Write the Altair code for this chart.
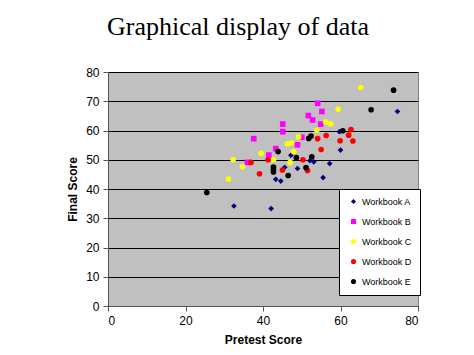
import altair as alt
import pandas as pd

series = ["Workbook A", "Workbook B", "Workbook C", "Workbook D", "Workbook E"]
colors = ["#000080", "#FF00FF", "#FFFF00", "#FF0000", "#000000"]
shapes = ["diamond", "square", "circle", "circle", "circle"]

a_x = [74.7, 59.7, 60.0, 47.2, 52.1, 53.1, 57.2, 45.6, 48.9, 55.5, 43.3, 44.6, 32.5, 42.1]
a_y = [66.5, 59.6, 53.3, 51.5, 49.7, 49.3, 48.7, 47.4, 47.0, 43.9, 43.3, 42.7, 34.2, 33.3]

b_x = [54.1, 55.2, 51.7, 52.8, 54.9, 45.1, 45.1, 50.0, 37.6, 48.9, 43.3, 41.5, 36.0]
b_y = [69.3, 66.5, 65.1, 63.6, 62.2, 62.2, 59.6, 57.7, 57.2, 55.1, 53.8, 51.6, 49.1]

c_x = [65.2, 59.4, 56.2, 57.5, 53.9, 49.2, 46.3, 47.4, 47.9, 39.5, 32.3, 42.7, 47.0, 34.7, 31.1]
c_y = [74.7, 67.3, 62.9, 62.3, 60.1, 57.8, 55.5, 55.7, 52.8, 52.2, 50.0, 50.0, 49.1, 47.6, 43.4]

d_x = [62.7, 56.3, 62.1, 54.1, 59.9, 63.2, 55.0, 50.3, 36.9, 41.3, 51.5, 45.0, 39.1]
d_y = [60.3, 58.3, 58.4, 57.2, 56.5, 56.4, 53.5, 50.0, 49.1, 50.0, 46.3, 46.5, 45.2]

e_x = [73.7, 67.9, 60.6, 52.4, 51.8, 43.9, 48.6, 52.6, 42.7, 42.7, 42.7, 51.1, 46.5, 25.5]
e_y = [73.8, 67.1, 59.9, 58.1, 57.3, 52.8, 50.7, 51.0, 47.5, 46.6, 45.8, 47.3, 44.6, 38.8]

x_ticks = [0, 20, 40, 60, 80]
y_ticks = [0, 10, 20, 30, 40, 50, 60, 70, 80]

rows = []
for name, xs, ys in zip(series, [a_x, b_x, c_x, d_x, e_x], [a_y, b_y, c_y, d_y, e_y]):
    for xv, yv in zip(xs, ys):
        rows.append({"Series": name, "Pretest": xv, "Final": yv})
df = pd.DataFrame(rows)

FONT = "Liberation Sans"

legend = alt.Legend(
    title=None,
    orient="none",
    legendX=231,
    legendY=117,
    fillColor="white",
    strokeColor="black",
    padding=8,
    labelFont=FONT,
    labelFontSize=9,
    labelColor="black",
    symbolSize=26,
    symbolStrokeWidth=0,
    rowPadding=10,
    labelOffset=4,
    symbolOffset=2,
)

chart = alt.Chart(df).mark_point(filled=True, opacity=1, size=32, strokeWidth=0).encode(
    x=alt.X(
        "Pretest:Q",
        scale=alt.Scale(domain=[0, 80], nice=False),
        axis=alt.Axis(
            values=x_ticks, title="Pretest Score", grid=False,
            domainColor="#555555", tickColor="#555555", tickSize=5,
            labelFont=FONT, labelFontSize=12, labelColor="black", labelPadding=4,
            titleFont=FONT, titleFontSize=12, titleFontWeight="bold", titleColor="black",
            titlePadding=8,
        ),
    ),
    y=alt.Y(
        "Final:Q",
        scale=alt.Scale(domain=[0, 80], nice=False),
        axis=alt.Axis(
            values=y_ticks, title="Final Score", grid=True, gridColor="black",
            gridWidth=1, gridOpacity=1,
            domainColor="#555555", tickColor="#555555", tickSize=5,
            labelFont=FONT, labelFontSize=12, labelColor="black", labelPadding=4,
            titleFont=FONT, titleFontSize=12, titleFontWeight="bold", titleColor="black",
            titlePadding=6,
        ),
    ),
    color=alt.Color("Series:N", scale=alt.Scale(domain=series, range=colors), legend=legend),
    shape=alt.Shape("Series:N", scale=alt.Scale(domain=series, range=shapes), legend=legend),
).properties(
    width=310,
    height=234,
    background="white",
    title=alt.TitleParams(
        "Graphical display of data",
        font="Liberation Serif",
        fontSize=26,
        fontWeight="normal",
        color="black",
        anchor="middle",
        frame="group",
        dx=-25,
        offset=5,
        baseline="alphabetic",
    ),
    autosize=alt.AutoSizeParams(type="none"),
    padding={"left": 108, "top": 72, "right": 56, "bottom": 49},
).configure_view(
    fill="#C0C0C0",
    stroke="#808080",
    strokeWidth=1,
)

chart.save("out.html", embed_options={"renderer": "svg", "actions": False})
